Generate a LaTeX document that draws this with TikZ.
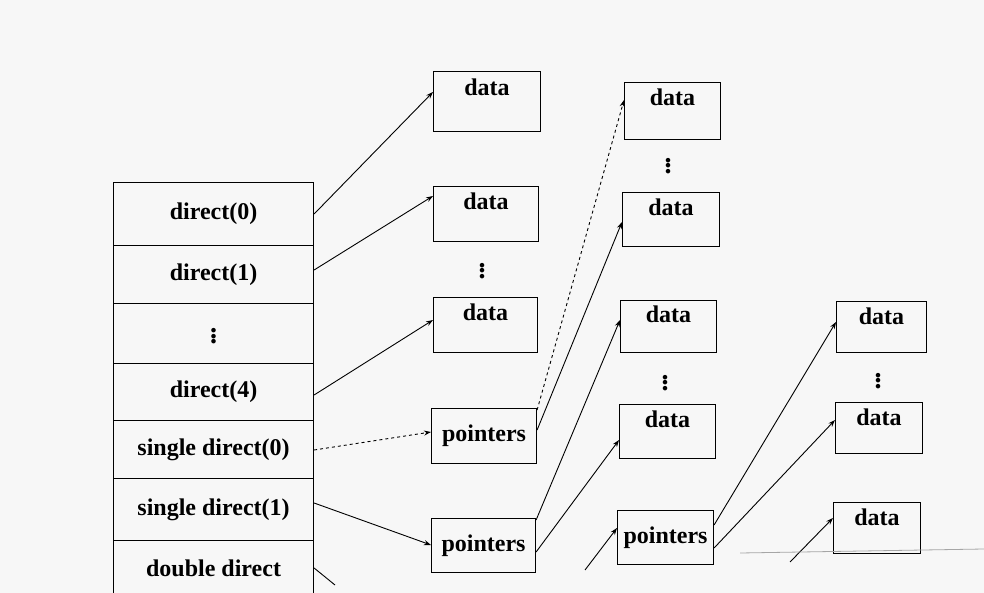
\documentclass[tikz,border=0pt]{standalone}
\usepackage{fontspec}
\setmainfont{Liberation Serif}
\usetikzlibrary{arrows.meta}
\begin{document}
\begin{tikzpicture}[x=1pt,y=-1pt,
  box/.style={draw,line width=1.1pt,inner sep=0pt,font=\fontsize{24}{26}\selectfont\bfseries,anchor=north west},
  row/.style={box,minimum width=200pt,anchor=north west},
  arr/.style={line width=0.9pt,-{Stealth[length=7pt,width=5pt]}},
  dot/.style={font=\fontsize{28}{30}\selectfont\bfseries,inner sep=0pt}]
\fill[gray!6] (0,0) rectangle (984,593);
\useasboundingbox (0,0) rectangle (984,593);
% table
\node[row,minimum height=63pt] (r0) at (113,182) {direct(0)};
\node[row,minimum height=58pt] (r1) at (113,245) {direct(1)};
\node[row,minimum height=60pt,font=\fontsize{28}{30}\selectfont\bfseries] (r2) at (113,303) {$\vdots$};
\node[row,minimum height=57pt] (r3) at (113,363) {direct(4)};
\node[row,minimum height=58pt] (r4) at (113,420) {single direct(0)};
\node[row,minimum height=62pt] (r5) at (113,478) {single direct(1)};
\node[row,minimum height=55pt] (r6) at (113,540) {double direct};
% column 2
\node[box,minimum width=107pt,minimum height=60pt,text height=18pt,text depth=30pt] (a1) at (433,71) {data};
\node[box,minimum width=105pt,minimum height=55pt,text height=18pt,text depth=27pt] (a2) at (433,186) {data};
\node[dot] (av) at (482,268) {$\vdots$};
\node[box,minimum width=104pt,minimum height=55pt,text height=18pt,text depth=27pt] (a3) at (433,297) {data};
\node[box,minimum width=105pt,minimum height=55pt] (p1) at (431,408) {pointers};
\node[box,minimum width=104pt,minimum height=54pt] (p2) at (431,518) {pointers};
% column 3
\node[box,minimum width=96pt,minimum height=57pt,text height=18pt,text depth=29pt] (b1) at (624,82) {data};
\node[dot] (bv1) at (668,163) {$\vdots$};
\node[box,minimum width=97pt,minimum height=54pt,text height=18pt,text depth=27pt] (b2) at (622,192) {data};
\node[box,minimum width=96pt,minimum height=52pt,text height=18pt,text depth=26pt] (b3) at (620,300) {data};
\node[dot] (bv2) at (665,380) {$\vdots$};
\node[box,minimum width=96pt,minimum height=54pt,text height=18pt,text depth=27pt] (b4) at (619,404) {data};
\node[box,minimum width=96pt,minimum height=54pt] (p3) at (617,510) {pointers};
% column 4
\node[box,minimum width=90pt,minimum height=51pt,text height=18pt,text depth=24pt] (c1) at (836,301) {data};
\node[dot] (cv) at (878,378) {$\vdots$};
\node[box,minimum width=87pt,minimum height=51pt,text height=18pt,text depth=24pt] (c2) at (835,402) {data};
\node[box,minimum width=87pt,minimum height=51pt,text height=18pt,text depth=24pt] (c3) at (833,502) {data};
% arrows
\draw[arr] ([yshift=-32pt]r0.north east) -- ([yshift=-21pt]a1.north west);
\draw[arr] ([yshift=-25pt]r1.north east) -- ([yshift=-10pt]a2.north west);
\draw[arr] ([yshift=-32pt]r3.north east) -- ([yshift=-23pt]a3.north west);
\draw[arr,dashed] ([yshift=-30pt]r4.north east) -- ([yshift=-24pt]p1.north west);
\draw[arr] ([yshift=-25pt]r5.north east) -- ([yshift=-27pt]p2.north west);
\coordinate (e1) at (335,585);
\draw[line width=0.9pt] ([yshift=-28pt]r6.north east) -- (e1);
\draw[arr,dashed] ([yshift=-2pt]p1.north east) -- ([yshift=-18pt]b1.north west);
\draw[arr] ([yshift=-22pt]p1.north east) -- ([yshift=-30pt]b2.north west);
\draw[arr] ([yshift=-2pt]p2.north east) -- ([yshift=-20pt]b3.north west);
\draw[arr] ([yshift=-34pt]p2.north east) -- ([yshift=-36pt]b4.north west);
\coordinate (e2) at (585,570);
\draw[arr] (e2) -- ([yshift=-18pt]p3.north west);
\draw[arr] ([yshift=-15pt]p3.north east) -- ([yshift=-21pt]c1.north west);
\draw[arr] ([yshift=-38pt]p3.north east) -- ([yshift=-18pt]c2.north west);
\coordinate (e3) at (790,562);
\draw[arr] (e3) -- ([yshift=-16pt]c3.north west);
\draw[gray!70,line width=0.8pt] (740,553) -- (984,549);
\end{tikzpicture}
\end{document}
